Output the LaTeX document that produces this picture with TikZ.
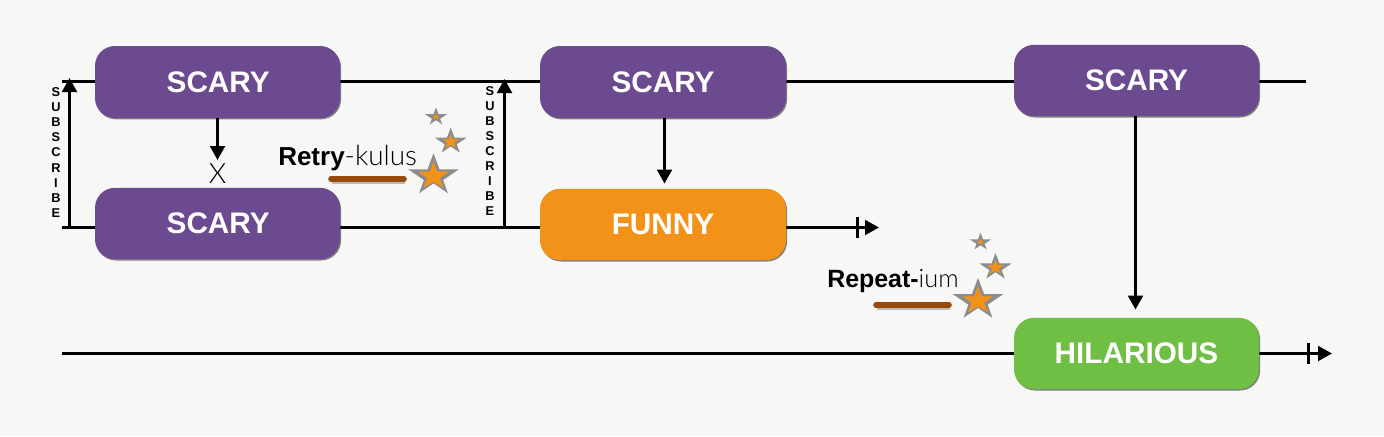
\documentclass[tikz,border=0pt]{standalone}
\usepackage{fontspec}
\setmainfont{Liberation Sans}
\newfontfamily\lightfont{Lato Light}
\usetikzlibrary{arrows.meta,shadows,positioning,calc}
\definecolor{bgc}{HTML}{F7F7F5}
\definecolor{purp}{HTML}{6C4A8F}
\definecolor{orng}{HTML}{F39219}
\definecolor{grn}{HTML}{70BF45}
\definecolor{brwn}{HTML}{964B0D}
\definecolor{stargrey}{HTML}{8A8C8E}
\tikzset{
  x=0.75pt,y=-0.75pt,
  box/.style={rounded corners=15pt,draw=none,inner sep=0pt,text=white,
    font=\fontsize{22.3}{24}\selectfont\bfseries,
    drop shadow={shadow xshift=0.8pt,shadow yshift=-1pt,opacity=.65,fill=black!75}},
  ln/.style={line width=2.25pt,black},
  arr/.style={ln,-{Triangle[length=10.5pt,width=11pt]}},
  sub/.style={font=\fontsize{9.6}{11.3}\selectfont\bfseries,align=center,inner sep=0pt},
  lab/.style={anchor=base west,inner sep=0pt},
  bar/.style={line width=4.2pt,brwn,line cap=round,
    preaction={draw=black!55,line width=4.4pt,transform canvas={xshift=.7pt,yshift=-1.6pt},opacity=.45}},
  pics/fivestar/.style={code={
    \fill[stargrey] (0,-.855) -- (.24,-.22) -- (1,-.22) -- (.38,.2) -- (.57,.72) -- (0,.33) -- (-.57,.72) -- (-.38,.2) -- (-1,-.22) -- (-.24,-.22) -- cycle;
    \fill[orng,scale=#1] (0,-.53) -- (.15,-.13) -- (.6,-.13) -- (.24,.13) -- (.4,.49) -- (0,.28) -- (-.4,.49) -- (-.24,.13) -- (-.6,-.13) -- (-.15,-.13) -- cycle;
  }}
}
\begin{document}
\begin{tikzpicture}
\useasboundingbox[fill=bgc] (0,0) rectangle (1384,436);
% free line ends
\coordinate (l1) at (62,81.5); \coordinate (r1) at (1306,81.5);
\coordinate (l2) at (62,227.5);
\coordinate (e2) at (864,227.5); \coordinate (t2) at (857.5,227.5); \coordinate (tip2) at (879,227.5);
\coordinate (l3) at (62,353.5);
\coordinate (e3) at (1317,353.5); \coordinate (t3) at (1308.5,353.5); \coordinate (tip3) at (1332,353.5);
\coordinate (s1b) at (69.5,227.5); \coordinate (s1t) at (69.5,78);
\coordinate (s2b) at (504.5,227.5); \coordinate (s2t) at (504.5,79);
\coordinate (xt) at (217.5,160);
% lines behind boxes
\draw[ln] (l1) -- (r1);
\draw[ln] (l2) -- (e2);
\draw[ln] (l3) -- (e3);
\draw[arr] (e2) -- (tip2);
\draw[arr] (e3) -- (tip3);
\draw[ln] ($(t2)+(0,-10.5)$) -- ($(t2)+(0,10.5)$);
\draw[ln] ($(t3)+(0,-10.5)$) -- ($(t3)+(0,10.5)$);
\draw[arr] (s1b) -- (s1t);
\draw[arr] (s2b) -- (s2t);
% boxes
\node[box,fill=purp,minimum width=183.75pt,minimum height=54pt] (a1) at (217.5,82) {\hspace*{1pt}SCARY};
\node[box,fill=purp,minimum width=183.75pt,minimum height=53.5pt] (a2) at (217.5,223.5) {\hspace*{1pt}SCARY};
\node[box,fill=purp,minimum width=184.5pt,minimum height=54pt] (b1) at (663,82) {SCARY};
\node[box,fill=orng,minimum width=184.5pt,minimum height=53.5pt] (b2) at (663,224.5) {FUNNY};
\node[box,fill=purp,minimum width=183.75pt,minimum height=53.5pt] (c1) at (1136.5,80.5) {SCARY};
\node[box,fill=grn,minimum width=183.75pt,minimum height=53.5pt] (c2) at (1136.5,353.5) {HILARIOUS};
% vertical arrows
\draw[arr] (a1.south) -- (xt);
\draw[arr] ($(b1.south)+(1.5,0)$) -- ($(b2.north)+(1.5,-5)$);
\draw[arr] ($(c1.south)+(-1,0)$) -- ($(c2.north)+(-1,-8)$);
\node[inner sep=0pt,font=\lightfont\fontsize{21}{21}\selectfont] (x) at (217.5,174) {X};
% subscribe
\node[sub] (sa) at (56,152.5) {S\\U\\B\\S\\C\\R\\I\\B\\E};
\node[sub] (sb) at (490,151) {S\\U\\B\\S\\C\\R\\I\\B\\E};
% labels
\node[lab] (retry) at (278,165) {\fontsize{19.5}{22}\selectfont\textbf{Retry}{\lightfont\fontsize{20.9}{22}\selectfont -kulus}};
\node[lab] (repeat) at (827,287) {\fontsize{18.7}{22}\selectfont\textbf{Repeat-}{\lightfont\fontsize{19}{22}\selectfont ium}};
\draw[bar] (331,179) -- (404,179);
\draw[bar] (876,305) -- (949,305);
% stars
\pic[xscale=25.3,yscale=25.3] at (433.5,175) {fivestar={1}};
\pic[xscale=15.8,yscale=15.8] at (450.7,141.2) {fivestar={.85}};
\pic[xscale=10.8,yscale=10.8] at (436,116.6) {fivestar={.55}};
\pic[xscale=25.3,yscale=25.3] at (978,299.6) {fivestar={1}};
\pic[xscale=16.2,yscale=16.2] at (995.5,266.9) {fivestar={.85}};
\pic[xscale=10.6,yscale=10.6] at (980.5,241.7) {fivestar={.55}};
\end{tikzpicture}
\end{document}
